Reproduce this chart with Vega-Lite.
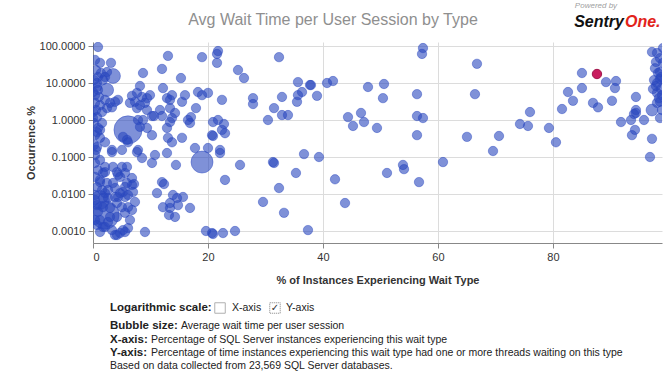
{
"$schema": "https://vega.github.io/schema/vega-lite/v6.json",
"width": 569, "height": 201,
"autosize": {"type": "none"},
"padding": {"left": 93, "top": 42, "right": 4, "bottom": 132},
"background": "white",
"config": {"view": {"stroke": null}, "font": "Liberation Sans"},
"datasets": {
"bubbles": [
{"pct":0.87,"occ":94,"avg":1},{"pct":13.04,"occ":54,"avg":1},{"pct":18.96,"occ":50,"avg":1},{"pct":21.74,"occ":73,"avg":1},{"pct":21.57,"occ":61,"avg":1},{"pct":21.57,"occ":35,"avg":1},{"pct":32.35,"occ":50,"avg":1},{"pct":3.13,"occ":35,"avg":1},{"pct":3.48,"occ":15.5,"avg":2.5},{"pct":1.39,"occ":18.6,"avg":1},{"pct":2.43,"occ":19.8,"avg":1},{"pct":0.87,"occ":14.5,"avg":1},{"pct":2.09,"occ":14.5,"avg":1},{"pct":8.7,"occ":18.6,"avg":1},{"pct":12.0,"occ":24,"avg":1},{"pct":15.3,"occ":13.6,"avg":1},{"pct":25.22,"occ":22.4,"avg":1},{"pct":26.26,"occ":13.6,"avg":1},{"pct":8.17,"occ":8.3,"avg":1},{"pct":12.17,"occ":7.3,"avg":1},{"pct":7.65,"occ":5.4,"avg":1},{"pct":8.52,"occ":4.2,"avg":1},{"pct":9.39,"occ":3.9,"avg":1},{"pct":7.3,"occ":3.1,"avg":1},{"pct":6.43,"occ":2.9,"avg":1},{"pct":8.17,"occ":2.5,"avg":1},{"pct":9.04,"occ":2.9,"avg":1},{"pct":7.65,"occ":2.1,"avg":1},{"pct":6.78,"occ":4.5,"avg":1},{"pct":9.91,"occ":4.7,"avg":1},{"pct":13.74,"occ":4.7,"avg":1},{"pct":12.87,"occ":3.9,"avg":1},{"pct":16.0,"occ":4.7,"avg":1},{"pct":15.48,"occ":3.1,"avg":1},{"pct":18.26,"occ":5.7,"avg":1},{"pct":18.96,"occ":4.7,"avg":1},{"pct":20.0,"occ":5.4,"avg":1},{"pct":22.43,"occ":3.5,"avg":1},{"pct":27.83,"occ":3.9,"avg":1},{"pct":27.83,"occ":2.7,"avg":1},{"pct":31.48,"occ":2.1,"avg":1},{"pct":32.87,"occ":4.2,"avg":1},{"pct":32.87,"occ":1.36,"avg":1},{"pct":30.43,"occ":1.0,"avg":1},{"pct":13.39,"occ":2.1,"avg":1},{"pct":14.26,"occ":1.55,"avg":1},{"pct":13.74,"occ":1.13,"avg":1},{"pct":13.39,"occ":0.88,"avg":1},{"pct":12.87,"occ":0.61,"avg":1},{"pct":11.65,"occ":1.86,"avg":1},{"pct":12.0,"occ":1.28,"avg":1},{"pct":9.39,"occ":1.86,"avg":1},{"pct":10.26,"occ":1.28,"avg":1},{"pct":10.61,"occ":1.28,"avg":1},{"pct":8.7,"occ":1.0,"avg":1},{"pct":7.83,"occ":1.0,"avg":1},{"pct":8.17,"occ":0.65,"avg":1},{"pct":9.39,"occ":0.61,"avg":1},{"pct":10.26,"occ":0.39,"avg":1},{"pct":6.09,"occ":0.54,"avg":9},{"pct":5.22,"occ":0.35,"avg":1},{"pct":5.91,"occ":0.29,"avg":1},{"pct":6.09,"occ":0.25,"avg":1},{"pct":5.04,"occ":0.155,"avg":1},{"pct":3.3,"occ":0.155,"avg":1},{"pct":2.09,"occ":0.25,"avg":1},{"pct":7.83,"occ":0.155,"avg":1},{"pct":8.52,"occ":0.094,"avg":1},{"pct":10.78,"occ":0.113,"avg":1},{"pct":10.26,"occ":0.069,"avg":1},{"pct":12.87,"occ":0.128,"avg":1},{"pct":13.04,"occ":0.33,"avg":1},{"pct":13.74,"occ":0.25,"avg":1},{"pct":15.48,"occ":0.33,"avg":1},{"pct":17.74,"occ":0.175,"avg":1},{"pct":20.0,"occ":0.175,"avg":1},{"pct":20.7,"occ":0.39,"avg":1},{"pct":20.87,"occ":0.37,"avg":1},{"pct":22.96,"occ":0.44,"avg":1},{"pct":22.43,"occ":0.54,"avg":1},{"pct":20.87,"occ":0.88,"avg":1},{"pct":21.74,"occ":1.0,"avg":1},{"pct":22.78,"occ":0.78,"avg":1},{"pct":22.09,"occ":0.155,"avg":1},{"pct":22.09,"occ":0.128,"avg":1},{"pct":18.96,"occ":0.073,"avg":5.5},{"pct":25.57,"occ":0.061,"avg":1},{"pct":31.3,"occ":0.073,"avg":1},{"pct":31.48,"occ":0.069,"avg":1},{"pct":22.96,"occ":0.024,"avg":1},{"pct":32.35,"occ":0.0145,"avg":1},{"pct":29.57,"occ":0.0061,"avg":1},{"pct":33.22,"occ":0.0031,"avg":1},{"pct":12.0,"occ":0.021,"avg":1},{"pct":12.35,"occ":0.0186,"avg":1},{"pct":11.13,"occ":0.0106,"avg":1},{"pct":13.91,"occ":0.0094,"avg":1},{"pct":15.65,"occ":0.0083,"avg":1},{"pct":14.61,"occ":0.0078,"avg":1},{"pct":12.17,"occ":0.0044,"avg":1},{"pct":13.39,"occ":0.0042,"avg":1},{"pct":14.78,"occ":0.005,"avg":1},{"pct":16.87,"occ":0.0042,"avg":1},{"pct":13.22,"occ":0.0027,"avg":1},{"pct":9.04,"occ":0.00094,"avg":1},{"pct":19.65,"occ":0.001,"avg":1},{"pct":20.7,"occ":0.00088,"avg":1},{"pct":20.87,"occ":0.00083,"avg":1},{"pct":22.61,"occ":0.00088,"avg":1},{"pct":24.7,"occ":0.001,"avg":1},{"pct":17.91,"occ":2.1,"avg":1},{"pct":17.04,"occ":1.2,"avg":1},{"pct":16.52,"occ":1.0,"avg":1},{"pct":16.87,"occ":0.83,"avg":1},{"pct":14.43,"occ":0.061,"avg":1},{"pct":13.39,"occ":3.5,"avg":1},{"pct":13.39,"occ":0.0057,"avg":1},
{"pct":0.7,"occ":7.8,"avg":1},{"pct":0.87,"occ":6.5,"avg":1},{"pct":0.35,"occ":4.7,"avg":1},{"pct":1.04,"occ":4.2,"avg":1},{"pct":2.43,"occ":6.5,"avg":2},{"pct":2.09,"occ":3.5,"avg":1},{"pct":2.96,"occ":2.9,"avg":1},{"pct":3.83,"occ":3.1,"avg":1},{"pct":4.35,"occ":3.5,"avg":1},{"pct":3.3,"occ":2.2,"avg":1},{"pct":2.43,"occ":2.1,"avg":1},{"pct":1.57,"occ":1.64,"avg":1},{"pct":1.22,"occ":2.5,"avg":1},{"pct":0.35,"occ":2.9,"avg":1},{"pct":0.0,"occ":1.64,"avg":1},{"pct":0.7,"occ":1.2,"avg":1},{"pct":0.17,"occ":0.83,"avg":1},{"pct":0.87,"occ":0.61,"avg":1},{"pct":0.35,"occ":0.39,"avg":1},{"pct":1.22,"occ":0.33,"avg":1},{"pct":1.57,"occ":0.83,"avg":1},{"pct":1.22,"occ":0.54,"avg":1},{"pct":0.35,"occ":42,"avg":1},{"pct":0.52,"occ":22.4,"avg":1},{"pct":0.17,"occ":12.0,"avg":1},{"pct":0.7,"occ":10,"avg":1},{"pct":0.0,"occ":5.7,"avg":1},{"pct":0.52,"occ":1.86,"avg":1},{"pct":0.0,"occ":1.13,"avg":1},{"pct":0.7,"occ":0.47,"avg":1},{"pct":0.17,"occ":0.21,"avg":1},{"pct":0.52,"occ":0.155,"avg":1},{"pct":1.22,"occ":35,"avg":1},{"pct":1.74,"occ":12,"avg":1},
{"pct":0.7,"occ":0.186,"avg":1},{"pct":0.35,"occ":0.113,"avg":1},{"pct":1.22,"occ":0.083,"avg":1},{"pct":2.09,"occ":0.054,"avg":1},{"pct":0.87,"occ":0.044,"avg":1},{"pct":1.74,"occ":0.037,"avg":1},{"pct":0.35,"occ":0.029,"avg":1},{"pct":1.22,"occ":0.021,"avg":1},{"pct":2.43,"occ":0.0198,"avg":1},{"pct":0.7,"occ":0.0155,"avg":1},{"pct":1.57,"occ":0.0128,"avg":1},{"pct":0.35,"occ":0.0094,"avg":1},{"pct":2.09,"occ":0.0106,"avg":1},{"pct":1.22,"occ":0.0069,"avg":4},{"pct":2.61,"occ":0.0078,"avg":1},{"pct":0.7,"occ":0.005,"avg":1},{"pct":1.74,"occ":0.0044,"avg":1},{"pct":2.96,"occ":0.0042,"avg":1},{"pct":0.87,"occ":0.0033,"avg":1},{"pct":2.09,"occ":0.0027,"avg":9},{"pct":1.22,"occ":0.00198,"avg":1},{"pct":2.61,"occ":0.00175,"avg":1},{"pct":0.7,"occ":0.00145,"avg":1},{"pct":1.74,"occ":0.00128,"avg":1},{"pct":3.3,"occ":0.00106,"avg":1},{"pct":1.22,"occ":0.00094,"avg":1},{"pct":4.17,"occ":0.00078,"avg":1},{"pct":4.7,"occ":0.00088,"avg":1},{"pct":5.57,"occ":0.00094,"avg":1},{"pct":6.09,"occ":0.0012,"avg":1},{"pct":6.43,"occ":0.00198,"avg":1},{"pct":6.78,"occ":0.0037,"avg":1},{"pct":7.3,"occ":0.0061,"avg":1},{"pct":6.09,"occ":0.0094,"avg":1},{"pct":5.22,"occ":0.0113,"avg":1},{"pct":4.35,"occ":0.0083,"avg":1},{"pct":3.83,"occ":0.0145,"avg":1},{"pct":4.35,"occ":0.033,"avg":1},{"pct":5.57,"occ":0.037,"avg":1},{"pct":5.04,"occ":0.054,"avg":1},{"pct":3.48,"occ":0.054,"avg":1},{"pct":5.91,"occ":0.0198,"avg":1},{"pct":6.78,"occ":0.0175,"avg":1},{"pct":6.96,"occ":0.0113,"avg":1},{"pct":3.3,"occ":0.136,"avg":1},{"pct":7.65,"occ":0.136,"avg":1},{"pct":14.26,"occ":0.0024,"avg":1},
{"pct":0.35,"occ":0.069,"avg":1},{"pct":2.09,"occ":0.039,"avg":1},{"pct":5.91,"occ":0.054,"avg":1},{"pct":4.17,"occ":0.039,"avg":1},{"pct":4.7,"occ":0.029,"avg":1},{"pct":6.78,"occ":0.027,"avg":1},{"pct":7.13,"occ":0.0186,"avg":1},{"pct":3.48,"occ":0.0198,"avg":1},{"pct":5.57,"occ":0.0155,"avg":1},{"pct":4.7,"occ":0.0106,"avg":1},{"pct":5.57,"occ":0.0083,"avg":1},{"pct":3.83,"occ":0.0083,"avg":1},{"pct":4.17,"occ":0.0057,"avg":1},{"pct":5.04,"occ":0.0044,"avg":1},{"pct":6.09,"occ":0.0044,"avg":1},{"pct":5.57,"occ":0.0031,"avg":1},{"pct":4.17,"occ":0.0024,"avg":1},{"pct":5.22,"occ":0.00106,"avg":1},{"pct":3.83,"occ":0.00078,"avg":1},{"pct":2.09,"occ":0.00128,"avg":1},{"pct":0.35,"occ":0.00198,"avg":1},{"pct":0.35,"occ":0.0069,"avg":1},{"pct":1.74,"occ":0.0078,"avg":1},{"pct":2.61,"occ":0.0128,"avg":1},{"pct":1.22,"occ":0.024,"avg":1},{"pct":2.96,"occ":0.0024,"avg":1},
{"pct":35.65,"occ":10.6,"avg":1},{"pct":37.74,"occ":8.8,"avg":1},{"pct":37.91,"occ":8.8,"avg":1},{"pct":40.7,"occ":10,"avg":1},{"pct":41.74,"occ":11.3,"avg":1},{"pct":47.83,"occ":7.8,"avg":1},{"pct":50.61,"occ":9.4,"avg":1},{"pct":57.39,"occ":88,"avg":1},{"pct":57.22,"occ":61,"avg":1},{"pct":56.35,"occ":5.0,"avg":1},{"pct":50.43,"occ":3.9,"avg":1},{"pct":35.65,"occ":4.7,"avg":1},{"pct":36.35,"occ":5.7,"avg":1},{"pct":35.48,"occ":3.1,"avg":1},{"pct":38.96,"occ":4.5,"avg":1},{"pct":33.91,"occ":1.36,"avg":1},{"pct":44.35,"occ":1.2,"avg":1},{"pct":45.22,"occ":0.69,"avg":1},{"pct":46.61,"occ":1.55,"avg":1},{"pct":47.13,"occ":0.88,"avg":1},{"pct":49.39,"occ":0.61,"avg":1},{"pct":56.35,"occ":1.28,"avg":1},{"pct":57.39,"occ":1.13,"avg":1},{"pct":56.35,"occ":0.39,"avg":1},{"pct":65.04,"occ":0.35,"avg":1},{"pct":36.7,"occ":0.12,"avg":1},{"pct":39.3,"occ":0.1,"avg":1},{"pct":35.3,"occ":0.037,"avg":1},{"pct":42.09,"occ":0.025,"avg":1},{"pct":51.13,"occ":0.037,"avg":1},{"pct":53.91,"occ":0.061,"avg":1},{"pct":54.09,"occ":0.047,"avg":1},{"pct":60.87,"occ":0.073,"avg":1},{"pct":56.7,"occ":0.021,"avg":1},{"pct":43.83,"occ":0.0057,"avg":1},{"pct":37.39,"occ":0.00106,"avg":1},
{"pct":66.78,"occ":33,"avg":1},{"pct":66.43,"occ":5.0,"avg":1},{"pct":76.0,"occ":1.64,"avg":1},{"pct":74.26,"occ":0.78,"avg":1},{"pct":75.65,"occ":0.69,"avg":1},{"pct":79.3,"occ":0.61,"avg":1},{"pct":80.52,"occ":0.25,"avg":1},{"pct":70.61,"occ":0.37,"avg":1},{"pct":69.57,"occ":0.145,"avg":1},{"pct":81.57,"occ":1.98,"avg":1},{"pct":82.61,"occ":5.7,"avg":1},{"pct":83.48,"occ":3.3,"avg":1},{"pct":85.04,"occ":18.6,"avg":1},{"pct":89.22,"occ":10.6,"avg":1},{"pct":90.96,"occ":11.3,"avg":1},{"pct":90.78,"occ":7.3,"avg":1},{"pct":85.04,"occ":7.3,"avg":1},{"pct":86.96,"occ":2.9,"avg":1},{"pct":87.83,"occ":2.2,"avg":1},{"pct":90.26,"occ":3.3,"avg":1},{"pct":94.43,"occ":4.2,"avg":1},{"pct":94.43,"occ":1.86,"avg":1},{"pct":94.43,"occ":1.55,"avg":1},{"pct":94.09,"occ":1.45,"avg":1},{"pct":91.83,"occ":0.88,"avg":1},{"pct":93.57,"occ":1.0,"avg":1},{"pct":95.83,"occ":1.0,"avg":1},{"pct":94.26,"occ":0.54,"avg":1},{"pct":93.74,"occ":0.39,"avg":1},{"pct":97.22,"occ":0.31,"avg":1},{"pct":96.87,"occ":0.1,"avg":1},{"pct":97.22,"occ":1.86,"avg":1.6},{"pct":97.22,"occ":69,"avg":1},
{"pct":98.09,"occ":65,"avg":1},{"pct":98.61,"occ":47,"avg":1},{"pct":97.91,"occ":37,"avg":1},{"pct":97.74,"occ":25,"avg":1},{"pct":98.26,"occ":18.6,"avg":1},{"pct":98.78,"occ":14.5,"avg":1},{"pct":97.57,"occ":12.0,"avg":1},{"pct":98.61,"occ":12.8,"avg":1},{"pct":98.09,"occ":10,"avg":1},{"pct":98.78,"occ":6.9,"avg":1},{"pct":97.39,"occ":6.9,"avg":1},{"pct":98.09,"occ":5.4,"avg":1},{"pct":98.96,"occ":4.7,"avg":1},{"pct":98.61,"occ":3.1,"avg":1},{"pct":98.09,"occ":2.9,"avg":1},{"pct":99.13,"occ":35,"avg":1},{"pct":98.61,"occ":19.8,"avg":1},{"pct":99.3,"occ":12,"avg":1},{"pct":99.13,"occ":88,"avg":1},{"pct":98.96,"occ":1.86,"avg":1},{"pct":98.61,"occ":1.13,"avg":1},{"pct":97.91,"occ":8.3,"avg":1},{"pct":98.43,"occ":3.9,"avg":1}
],
"selected": [{"pct":87.65,"occ":17.5,"avg":1}]
},
"layer": [
{"data": {"name": "bubbles"},
 "mark": {"type": "circle", "clip": true, "fill": "#2A47BE", "fillOpacity": 0.6, "stroke": "#2A47BE", "strokeOpacity": 0.45, "strokeWidth": 1},
 "encoding": {
  "x": {"field": "pct", "type": "quantitative", "scale": {"domain": [0, 98.96], "nice": false, "zero": false},
        "axis": {"values": [0,20,40,60,80], "format": "d", "title": "% of Instances Experiencing Wait Type", "titleFont": "Liberation Sans", "titleFontSize": 11, "titleFontWeight": "bold", "titleColor": "#333", "titlePadding": 12, "labelFont": "Liberation Sans", "labelFontSize": 11, "labelColor": "#333", "labelPadding": 3, "tickSize": 5, "tickColor": "#888", "domainColor": "#888", "gridColor": "#DCDCDC", "grid": true}},
  "y": {"field": "occ", "type": "quantitative", "scale": {"type": "log", "domain": [0.000474, 128.3], "nice": false, "zero": false},
        "axis": {"values": [0.001,0.01,0.1,1,10,100], "format": ".4f", "title": "Occurrence %", "titleFont": "Liberation Sans", "titleFontSize": 11, "titleFontWeight": "bold", "titleColor": "#333", "titlePadding": 3, "labelFont": "Liberation Sans", "labelFontSize": 11, "labelColor": "#333", "labelPadding": 3, "tickSize": 5, "tickColor": "#888", "domainColor": "#888", "gridColor": "#DCDCDC", "grid": true}},
  "size": {"field": "avg", "type": "quantitative", "scale": {"type": "linear", "zero": true, "domain": [0, 10], "range": [0, 880]}, "legend": null}
 }},
{"data": {"name": "selected"},
 "mark": {"type": "circle", "clip": true, "fill": "#C81D5E", "fillOpacity": 1, "stroke": "#A0164C", "strokeWidth": 1},
 "encoding": {"x": {"field": "pct", "type": "quantitative"}, "y": {"field": "occ", "type": "quantitative"}, "size": {"field": "avg", "type": "quantitative", "legend": null}}},
{"data": {"values": [{"t": "Avg Wait Time per User Session by Type"}]}, "mark": {"type": "text", "align": "center", "baseline": "middle", "fontSize": 16, "color": "#8F8F8F"},
 "encoding": {"x": {"datum": 41.74, "type": "quantitative"}, "y": {"datum": 500, "type": "quantitative"}, "text": {"field": "t", "type": "nominal"}}},
{"data": {"values": [{"t": "Powered by"}]}, "mark": {"type": "text", "align": "center", "baseline": "middle", "fontSize": 8, "fontStyle": "italic", "color": "#A0A0A0"},
 "encoding": {"x": {"datum": 87.48, "type": "quantitative"}, "y": {"datum": 1205, "type": "quantitative"}, "text": {"field": "t", "type": "nominal"}}},
{"data": {"values": [{"t": "Sentry"}]}, "mark": {"type": "text", "align": "right", "baseline": "middle", "fontSize": 16, "fontStyle": "italic", "fontWeight": "bold", "color": "#111111"},
 "encoding": {"x": {"datum": 92.35, "type": "quantitative"}, "y": {"datum": 445, "type": "quantitative"}, "text": {"field": "t", "type": "nominal"}}},
{"data": {"values": [{"t": "One."}]}, "mark": {"type": "text", "align": "left", "baseline": "middle", "fontSize": 16, "fontStyle": "italic", "fontWeight": "bold", "color": "#E2231A"},
 "encoding": {"x": {"datum": 92.52, "type": "quantitative"}, "y": {"datum": 445, "type": "quantitative"}, "text": {"field": "t", "type": "nominal"}}},
{"data": {"values": [{"t": "Logarithmic scale:"}]}, "mark": {"type": "text", "align": "left", "baseline": "middle", "fontSize": 11.5, "fontWeight": "bold", "color": "#222222"},
 "encoding": {"x": {"datum": 2.957, "type": "quantitative"}, "y": {"datum": 8.3e-6, "type": "quantitative"}, "text": {"field": "t", "type": "nominal"}}},
{"data": {"values": [{"box": "X-axis"}]}, "mark": {"type": "point", "shape": "square", "filled": false, "size": 110, "stroke": "#B0B0B0", "strokeWidth": 1, "opacity": 1},
 "encoding": {"x": {"datum": 22.09, "type": "quantitative"}, "y": {"datum": 8.3e-6, "type": "quantitative"}}},
{"data": {"values": [{"t": "X-axis"}]}, "mark": {"type": "text", "align": "left", "baseline": "middle", "fontSize": 10.5, "color": "#222222"},
 "encoding": {"x": {"datum": 24.17, "type": "quantitative"}, "y": {"datum": 8.3e-6, "type": "quantitative"}, "text": {"field": "t", "type": "nominal"}}},
{"data": {"values": [{"box": "Y-axis"}]}, "mark": {"type": "point", "shape": "square", "filled": false, "size": 110, "stroke": "#808080", "strokeWidth": 1, "strokeDash": [1, 1], "opacity": 1},
 "encoding": {"x": {"datum": 31.65, "type": "quantitative"}, "y": {"datum": 8.3e-6, "type": "quantitative"}}},
{"data": {"values": [{"t": "✓"}]}, "mark": {"type": "text", "align": "center", "baseline": "middle", "fontSize": 10, "font": "DejaVu Sans", "color": "#333333"},
 "encoding": {"x": {"datum": 31.65, "type": "quantitative"}, "y": {"datum": 8.3e-6, "type": "quantitative"}, "text": {"field": "t", "type": "nominal"}}},
{"data": {"values": [{"t": "Y-axis"}]}, "mark": {"type": "text", "align": "left", "baseline": "middle", "fontSize": 10.5, "color": "#222222"},
 "encoding": {"x": {"datum": 33.57, "type": "quantitative"}, "y": {"datum": 8.3e-6, "type": "quantitative"}, "text": {"field": "t", "type": "nominal"}}},
{"data": {"values": [{"t": "Bubble size:"}]}, "mark": {"type": "text", "align": "left", "baseline": "middle", "fontSize": 11.5, "fontWeight": "bold", "color": "#222222"},
 "encoding": {"x": {"datum": 2.957, "type": "quantitative"}, "y": {"datum": 2.706e-6, "type": "quantitative"}, "text": {"field": "t", "type": "nominal"}}},
{"data": {"values": [{"t": "Average wait time per user session"}]}, "mark": {"type": "text", "align": "left", "baseline": "middle", "fontSize": 10.5, "color": "#222222"},
 "encoding": {"x": {"datum": 15.3, "type": "quantitative"}, "y": {"datum": 2.706e-6, "type": "quantitative"}, "text": {"field": "t", "type": "nominal"}}},
{"data": {"values": [{"t": "X-axis:"}]}, "mark": {"type": "text", "align": "left", "baseline": "middle", "fontSize": 11.5, "fontWeight": "bold", "color": "#222222"},
 "encoding": {"x": {"datum": 2.957, "type": "quantitative"}, "y": {"datum": 1.133e-6, "type": "quantitative"}, "text": {"field": "t", "type": "nominal"}}},
{"data": {"values": [{"t": "Percentage of SQL Server instances experiencing this wait type"}]}, "mark": {"type": "text", "align": "left", "baseline": "middle", "fontSize": 10.5, "color": "#222222"},
 "encoding": {"x": {"datum": 10.09, "type": "quantitative"}, "y": {"datum": 1.133e-6, "type": "quantitative"}, "text": {"field": "t", "type": "nominal"}}},
{"data": {"values": [{"t": "Y-axis:"}]}, "mark": {"type": "text", "align": "left", "baseline": "middle", "fontSize": 11.5, "fontWeight": "bold", "color": "#222222"},
 "encoding": {"x": {"datum": 2.957, "type": "quantitative"}, "y": {"datum": 5.043e-7, "type": "quantitative"}, "text": {"field": "t", "type": "nominal"}}},
{"data": {"values": [{"t": "Percentage of time instances experiencing this wait type had one or more threads waiting on this type"}]}, "mark": {"type": "text", "align": "left", "baseline": "middle", "fontSize": 10.5, "color": "#222222"},
 "encoding": {"x": {"datum": 10.09, "type": "quantitative"}, "y": {"datum": 5.043e-7, "type": "quantitative"}, "text": {"field": "t", "type": "nominal"}}},
{"data": {"values": [{"t": "Based on data collected from 23,569 SQL Server databases."}]}, "mark": {"type": "text", "align": "left", "baseline": "middle", "fontSize": 10.5, "color": "#222222"},
 "encoding": {"x": {"datum": 2.957, "type": "quantitative"}, "y": {"datum": 2.245e-7, "type": "quantitative"}, "text": {"field": "t", "type": "nominal"}}}
]
}
